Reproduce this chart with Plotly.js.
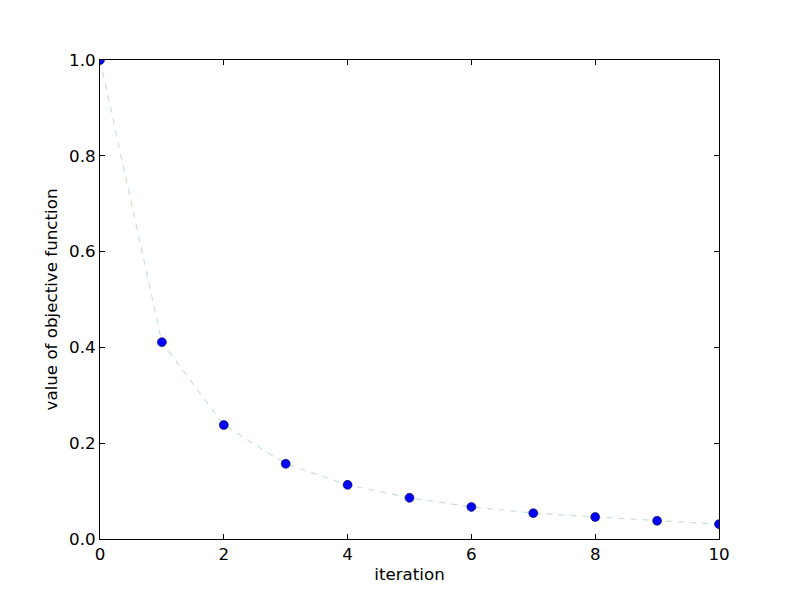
<!DOCTYPE html>
<html>
<head>
<meta charset="utf-8">
<script src="https://cdn.plot.ly/plotly-3.0.1.min.js"></script>
<style>html,body{margin:0;padding:0;background:#fff;}#chart{width:800px;height:600px;}</style>
</head>
<body>
<div id="chart"></div>
<script>
const iterations = [0, 1, 2, 3, 4, 5, 6, 7, 8, 9, 10];
const objectiveValues = [1.0, 0.411, 0.238, 0.157, 0.113, 0.086, 0.067, 0.054, 0.046, 0.038, 0.031];
const xTicks = [0, 2, 4, 6, 8, 10];
const yTicks = [0, 0.2, 0.4, 0.6, 0.8, 1.0];
const yTickLabels = ['0.0', '0.2', '0.4', '0.6', '0.8', '1.0'];

const font = {family: 'DejaVu Sans, sans-serif', size: 16.7, color: '#000'};

const traces = [
  {
    x: iterations, y: objectiveValues, mode: 'lines', type: 'scatter',
    line: {color: 'rgb(200,228,205)', width: 1.2, dash: '6px,6px'},
    hoverinfo: 'skip', showlegend: false
  },
  {
    x: iterations, y: objectiveValues, mode: 'markers', type: 'scatter',
    marker: {color: '#0000ff', size: 9, line: {color: '#000', width: 0.5}},
    showlegend: false
  }
];

const axisCommon = {
  showgrid: false, zeroline: false, showline: true, linecolor: '#000', linewidth: 1,
  mirror: 'ticks', ticks: 'inside', ticklen: 5, tickwidth: 1, tickcolor: '#000',
  tickfont: font
};

const layout = {
  width: 800, height: 600,
  margin: {l: 100, r: 81, t: 60, b: 61},
  paper_bgcolor: '#fff', plot_bgcolor: '#fff',
  font: font,
  xaxis: Object.assign({}, axisCommon, {
    range: [0, 10], tickvals: xTicks, ticktext: xTicks.map(String),
    title: {text: 'iteration', font: font, standoff: 5}
  }),
  yaxis: Object.assign({}, axisCommon, {
    range: [0, 1], tickvals: yTicks, ticktext: yTickLabels,
    title: {text: 'value of objective function', font: font, standoff: 7}
  })
};

Plotly.newPlot('chart', traces, layout, {staticPlot: true});
</script>
</body>
</html>
